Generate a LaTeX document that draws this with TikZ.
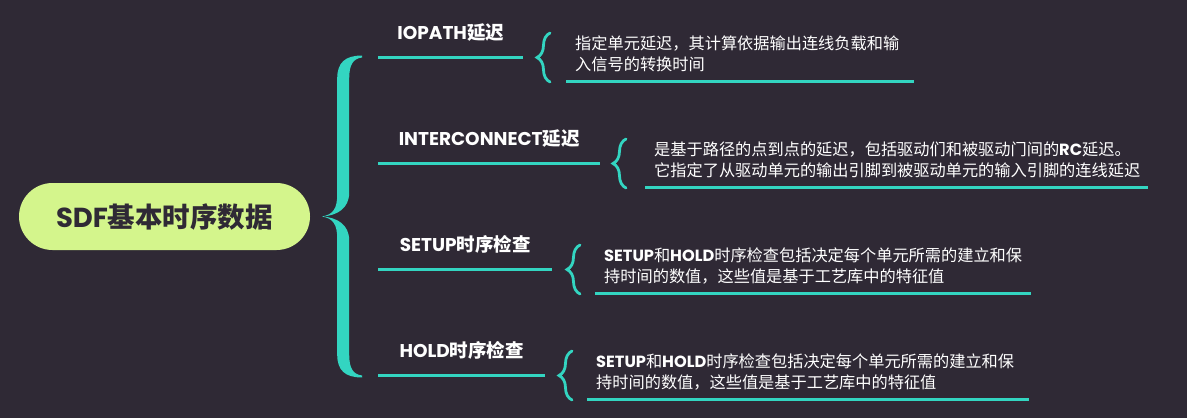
\documentclass[tikz,border=0pt]{standalone}
\usepackage{fontspec}
\setmainfont{Noto Sans CJK SC}
\newfontfamily\latfont{Poppins}
\usetikzlibrary{calc,decorations.pathreplacing}

\definecolor{bgdark}{HTML}{2F2935}
\definecolor{mindteal}{HTML}{33D5C1}
\definecolor{rootgreen}{HTML}{D4F58C}
\newcommand{\en}[1]{{\latfont\bfseries #1}}

\begin{document}
\begin{tikzpicture}[x=1pt,y=-1pt,
  rootnode/.style={fill=rootgreen,text=bgdark,rounded corners=33.5pt,
    minimum width=291pt,minimum height=67pt,inner sep=0pt,
    font=\fontsize{27.5}{32}\selectfont\bfseries},
  topic/.style={anchor=south west,text=white,inner sep=0pt,text depth=17pt,
    font=\fontsize{18.5}{22}\selectfont\bfseries},
  detail/.style={anchor=south west,text=white,align=left,inner xsep=9pt,
    inner ysep=0pt,text depth=10pt,font=\fontsize{16.2}{21}\selectfont},
  uline/.style={draw=mindteal,line width=3pt},
  smallbrace/.style={draw=mindteal,line width=2.8pt,line cap=round,
    decorate,decoration={brace,amplitude=13pt}}]
  % Dark background, also fixes the page size.
  \fill[bgdark] (0,0) rectangle (1187,418);
  % Root topic.
  \node[rootnode] (root) at (164.5,216.5) {\en{SDF}基本时序数据};
  % Branch topics, each sitting on a teal underline.
  \node[topic,minimum width=145pt] (iopath) at (378,57) {\en{IOPATH}延迟};
  \node[topic,minimum width=222pt] (inter) at (378,163) {\en{INTERCONNECT}延迟};
  \node[topic,minimum width=174pt] (setup) at (378,269) {\en{SETUP}时序检查};
  \node[topic,minimum width=167pt] (hold) at (378,375) {\en{HOLD}时序检查};
  \foreach \t in {iopath,inter,setup,hold}
    \draw[uline] (\t.south west) -- (\t.south east);
  % Big tapered brace from the root to the branches.
  \coordinate (tip) at ($(root.east)+(13,0)$);
  \fill[mindteal,shift={(tip)}] (39,-161) .. controls (22,-161) and (14,-154) .. (14,-138)
    -- (14,-22) .. controls (14,-8) and (10,-2) .. (-1,0)
    .. controls (10,2) and (14,8) .. (14,22) -- (14,138)
    .. controls (14,154) and (22,161) .. (39,161) -- (39,159)
    .. controls (30,158) and (26,152) .. (26,138) -- (26,24)
    .. controls (26,8) and (14,1) .. (-1,0)
    .. controls (14,-1) and (26,-8) .. (26,-24) -- (26,-138)
    .. controls (26,-152) and (30,-158) .. (39,-159) -- cycle;
  % Details.
  \node[detail] (iopathtxt) at (566,81)
    {指定单元延迟，其计算依据输出连线负载和输\\入信号的转换时间};
  \node[detail] (intertxt) at (645,187)
    {是基于路径的点到点的延迟，包括驱动们和被驱动门间的\en{RC}延迟。\\它指定了从驱动单元的输出引脚到被驱动单元的输入引脚的连线延迟};
  \node[detail] (setuptxt) at (595,293)
    {\en{SETUP}和\en{HOLD}时序检查包括决定每个单元所需的建立和保\\持时间的数值，这些值是基于工艺库中的特征值};
  \node[detail] (holdtxt) at (587,399)
    {\en{SETUP}和\en{HOLD}时序检查包括决定每个单元所需的建立和保\\持时间的数值，这些值是基于工艺库中的特征值};
  % Underlines and small braces of the details.
  \foreach \d/\w/\g in {iopathtxt/348/16,intertxt/503/19,setuptxt/436/15,holdtxt/442/15}{
    \draw[uline] (\d.south west) -- ++(\w,0);
    \draw[smallbrace] ($(\d.south west)+(-\g,1)$) -- ($(\d.south west)+(-\g,-48)$);
  }
\end{tikzpicture}
\end{document}
